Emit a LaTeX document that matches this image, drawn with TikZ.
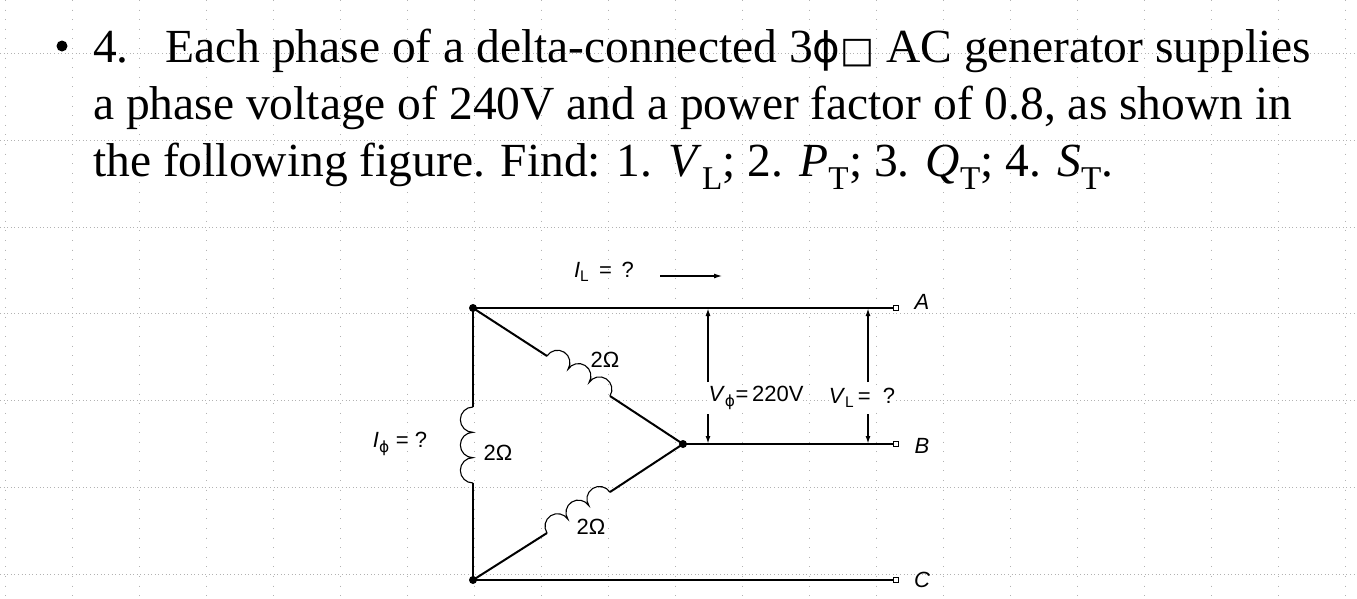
\documentclass[tikz,border=0pt]{standalone}
\usepackage{fontspec}
\setmainfont{Liberation Serif}
\newfontfamily\circfont{Liberation Sans}
\newfontfamily\symfont{DejaVu Sans}
\usetikzlibrary{arrows.meta}
\begin{document}
\begin{tikzpicture}[x=1pt,y=1pt,
  wire/.style={line width=2pt},
  junc/.style={circle,fill=black,inner sep=0pt,minimum size=8pt},
  term/.style={rectangle,draw,fill=white,inner sep=0pt,minimum size=5pt,line width=0.9pt},
  lbl/.style={font=\circfont\fontsize{22}{24}\selectfont,inner sep=1pt},
  grid/.style={gray!60,line width=0.6pt,dash pattern=on 0.6pt off 3pt},
  vgrid/.style={gray!60,line width=0.6pt,dash pattern=on 0.6pt off 9pt},
  big/.style={font=\fontsize{47.5}{55}\selectfont,anchor=base west,inner sep=0pt}]
\useasboundingbox (0,0) rectangle (1357,-598);
\fill[white] (0,0) rectangle (1357,-598);
% background grid
\foreach \yy in {53,140,227,313,400,487,574} \draw[grid] (0,-\yy) -- (1357,-\yy);
\foreach \xx in {5,72,139,206,273,340,407,474,541,608,675,742,809,876,943,1010,1077,1144,1211,1278,1345} \draw[vgrid] (\xx,0) -- (\xx,-598);
% text
\node[circle,fill=black,inner sep=0pt,minimum size=11pt] (bul) at (62,-46) {};
\node[big] (n4) at (93,-62) {4.};
\node[big] (l1) at (165,-62) {Each phase of a delta-connected 3{\symfont\fontsize{42}{48}\selectfont ϕ}{\symfont\fontsize{36}{40}\selectfont □} AC generator supplies};
\node[big] (l2) at (93,-119) {a phase voltage of 240V and a power factor of 0.8, as shown in};
\node[big] (l3) at (93,-176) {the following figure. Find: 1. \textit{V}\textsubscript{L}; 2. \textit{P}\textsubscript{T}; 3. \textit{Q}\textsubscript{T}; 4. \textit{S}\textsubscript{T}.};
% circuit nodes
\node[junc] (TL) at (473,-308) {};
\node[junc] (BL) at (473,-580) {};
\node[junc] (M) at (683,-444) {};
\node[term] (TA) at (896,-308) {};
\node[term] (TB) at (896,-444) {};
\node[term] (TC) at (896,-580) {};
\coordinate (u1) at (547,-356); \coordinate (u2) at (610,-396);
\coordinate (d1) at (547,-533); \coordinate (d2) at (610,-492);
\coordinate (v1) at (473,-483); \coordinate (v2) at (473,-407);
\draw[wire] (TL.center) -- (TA);
\draw[wire] (M.center) -- (TB);
\draw[wire] (BL.center) -- (TC);
\draw[wire] (TL.center) -- (u1); \draw[wire] (u2) -- (M.center);
\draw[wire] (BL.center) -- (d1); \draw[wire] (d2) -- (M.center);
\draw[wire] (TL.center) -- (v2); \draw[wire] (v1) -- (BL.center);
% coils
\begin{scope}[shift={(u1)},rotate=-32.4]
\draw[line width=1.1pt] (0,0) arc[start angle=180,end angle=0,radius=12.43] arc[start angle=180,end angle=0,radius=12.43] arc[start angle=180,end angle=0,radius=12.43];
\end{scope}
\begin{scope}[shift={(d1)},rotate=33]
\draw[line width=1.1pt] (0,0) arc[start angle=180,end angle=0,radius=12.5] arc[start angle=180,end angle=0,radius=12.5] arc[start angle=180,end angle=0,radius=12.5];
\end{scope}
\begin{scope}[shift={(v1)},rotate=90]
\draw[line width=1.1pt] (0,0) arc[start angle=180,end angle=0,radius=12.67] arc[start angle=180,end angle=0,radius=12.67] arc[start angle=180,end angle=0,radius=12.67];
\end{scope}
% labels
\node[lbl] (rA) at (605,-360) {2Ω};
\node[lbl] (rL) at (498,-453) {2Ω};
\node[lbl] (rB) at (591,-527) {2Ω};
\node[lbl,font=\circfont\itshape\fontsize{22}{24}\selectfont] (la) at (922,-302) {A};
\node[lbl,font=\circfont\itshape\fontsize{22}{24}\selectfont] (lb) at (922,-446) {B};
\node[lbl,font=\circfont\itshape\fontsize{22}{24}\selectfont] (lc) at (922,-580) {C};
\node[lbl] (IL) at (604,-272) {\textit{I}\textsubscript{L} \,=\, ?};
\coordinate (ia) at (660,-276); \coordinate (ib) at (722,-276);
\draw[line width=1.1pt,-{Latex[length=8pt,width=5pt]}] (ia) -- (ib);
\node[lbl] (Iph) at (400,-444) {\textit{I}\textsubscript{{\symfont ϕ}} = ?};
\node[lbl,fill=white,inner sep=0pt] (Vph) at (756,-398) {\textit{V}\textsubscript{{\symfont ϕ}}=\,220V};
\node[lbl,fill=white,inner sep=0pt] (VL) at (862,-398) {\textit{V}\textsubscript{L}\,=\ \ ?};
\coordinate (p1) at (708,-308); \coordinate (p2) at (708,-444);
\coordinate (q1) at (868,-308); \coordinate (q2) at (868,-444);
\draw[line width=1.8pt,-{Latex[length=8pt,width=5pt]}] (708,-382) -- (p1);
\draw[line width=1.8pt,-{Latex[length=8pt,width=5pt]}] (708,-414) -- (p2);
\draw[line width=1.8pt,-{Latex[length=8pt,width=5pt]}] (868,-382) -- (q1);
\draw[line width=1.8pt,-{Latex[length=8pt,width=5pt]}] (868,-414) -- (q2);
\end{tikzpicture}
\end{document}
